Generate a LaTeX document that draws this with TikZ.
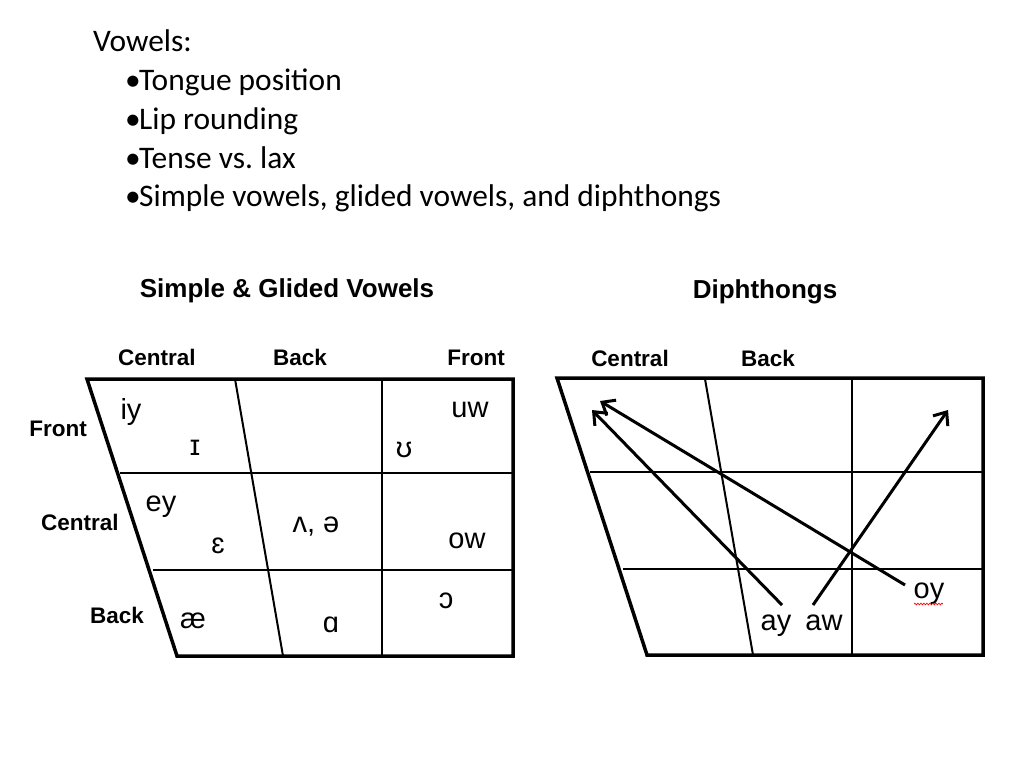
\documentclass[tikz,border=0pt]{standalone}
\usepackage{fontspec}
\setmainfont{Carlito}
\newfontfamily\arialf{Liberation Sans}
\usetikzlibrary{arrows.meta,decorations.pathmorphing}
\begin{document}
\frenchspacing
\begin{tikzpicture}[x=1pt,y=-1pt,
  hd/.style={font=\arialf\bfseries\fontsize{22.5}{22.5}\selectfont, text depth=0.25em},
  ttl/.style={font=\arialf\bfseries\fontsize{26}{26}\selectfont},
  vw/.style={font=\arialf\fontsize{29}{29}\selectfont},
  bl/.style={font=\fontsize{31.4}{31.4}\selectfont, anchor=base west, inner sep=0pt},
  outer/.style={line width=3.5pt, line join=miter},
  inner/.style={line width=2pt},
  arr/.style={line width=3pt, -{Straight Barb[length=11pt,width=18pt,line width=3pt]}}]
\useasboundingbox (0,0) rectangle (1024,768);
% text block
\node[bl] (v0) at (93,52) {Vowels:};
\foreach \t [count=\i] in {Tongue position, Lip rounding, Tense vs. lax, {Simple vowels, glided vowels, and diphthongs}} {
  \node[bl] (d\i) at (125,52+38.7*\i) {\textbullet};
  \node[bl] (b\i) at (139,52+38.7*\i) {\t};
}
% left chart
\node[ttl] (t1) at (287,291) {Simple \& Glided Vowels};
\draw[inner] (235,379) -- (283,656);
\draw[inner] (382,379) -- (382,656);
\draw[inner] (120,473) -- (513,473);
\draw[inner] (153,570) -- (513,570);
\draw[outer] (87,379) -- (513,379) -- (513,656) -- (177,656) -- cycle;
\node[hd] (lc) at (157,359) {Central};
\node[hd] (lb) at (300,359) {Back};
\node[hd] (lf) at (476,359) {Front};
\node[hd] (sf) at (58,430) {Front};
\node[hd] (sc) at (80,524) {Central};
\node[hd] (sb) at (117,617) {Back};
\node[vw] (iy) at (131,412) {iy};
\node[vw] (ih) at (195,448) {ɪ};
\node[vw] (uh) at (404,450) {ʊ};
\node[vw] (uw) at (470,410) {uw};
\node[vw] (ey) at (161,507) {ey};
\node[vw] (eh) at (218,546) {ɛ};
\node[vw] (ah) at (316,527) {ʌ, ə};
\node[vw] (ow) at (467,541) {ow};
\node[vw] (ao) at (446,601) {ɔ};
\node[vw] (ae) at (193,621) {æ};
\node[vw] (aa) at (331,625) {ɑ};
% right chart
\node[ttl] (t2) at (765,292) {Diphthongs};
\draw[inner] (705,379) -- (753,655);
\draw[inner] (852,379) -- (852,655);
\draw[inner] (590,472) -- (983,472);
\draw[inner] (623,569) -- (983,569);
\draw[outer] (557,378) -- (983,378) -- (983,655) -- (647,655) -- cycle;
\node[hd] (rc) at (630,360) {Central};
\node[hd] (rb) at (768,360) {Back};
\node[vw, anchor=base] (ay) at (776,630) {ay};
\node[vw, anchor=base] (aw) at (824,630) {aw};
\node[vw, anchor=base] (oy) at (929,598) {oy};
\draw[red, line width=0.7pt, decorate, decoration={snake, amplitude=0.8pt, segment length=3pt}] (914,604) -- (943,604);
\coordinate (ayS) at (782,605);
\coordinate (ayE) at (592,410);
\coordinate (oyS) at (905,585);
\coordinate (oyE) at (600,401);
\coordinate (awS) at (813,605);
\coordinate (awE) at (948,410);
\draw[arr] (ayS) -- (ayE);
\draw[arr] (oyS) -- (oyE);
\draw[arr] (awS) -- (awE);
\end{tikzpicture}
\end{document}
